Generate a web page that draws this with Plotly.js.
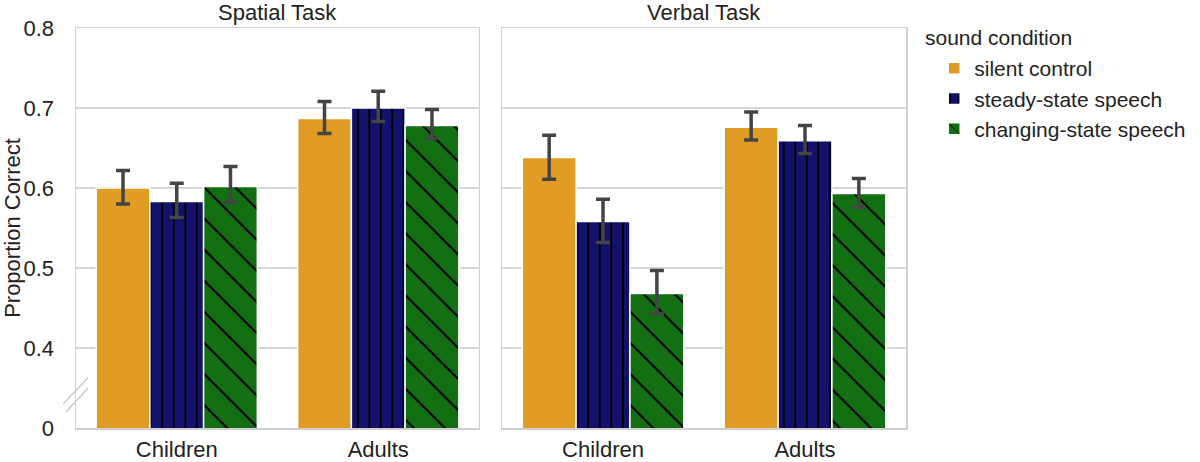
<!DOCTYPE html>
<html>
<head>
<meta charset="utf-8">
<script src="https://cdn.plot.ly/plotly-3.0.1.min.js"></script>
<style>html,body{margin:0;padding:0;background:#fff}#chart{width:1200px;height:462px}</style>
</head>
<body>
<div id="chart"></div>
<script>
// Data
var groups = ['Children', 'Adults'];
var tasks = ['Spatial Task', 'Verbal Task'];
var conditions = ['silent control', 'steady-state speech', 'changing-state speech'];

// means per task [Children, Adults]
var spatialSilent = [0.600, 0.687];
var spatialSteady = [0.583, 0.700];
var spatialChanging = [0.602, 0.678];
var verbalSilent = [0.638, 0.676];
var verbalSteady = [0.558, 0.659];
var verbalChanging = [0.468, 0.593];

// confidence interval bounds
var spatialSilentHi = [0.622, 0.708];
var spatialSilentLo = [0.580, 0.668];
var spatialSteadyHi = [0.606, 0.721];
var spatialSteadyLo = [0.563, 0.683];
var spatialChangingHi = [0.627, 0.698];
var spatialChangingLo = [0.582, 0.662];
var verbalSilentHi = [0.666, 0.695];
var verbalSilentLo = [0.611, 0.660];
var verbalSteadyHi = [0.586, 0.678];
var verbalSteadyLo = [0.532, 0.643];
var verbalChangingHi = [0.497, 0.612];
var verbalChangingLo = [0.443, 0.576];

// y-axis: broken scale, 0 shown at the bottom then 0.4 .. 0.8
var yTickVals = [0.3, 0.4, 0.5, 0.6, 0.7, 0.8];
var yTickText = ['0', '0.4', '0.5', '0.6', '0.7', '0.8'];

var colors = ['#e09c24', '#12126c', '#127012'];
var patterns = ['', '|', '\\'];
var patternSizes = [0, 11.5, 22];
var patternSolidity = [0, 0.17, 0.1];

var series = [
  [[spatialSilent, spatialSilentHi, spatialSilentLo], [spatialSteady, spatialSteadyHi, spatialSteadyLo], [spatialChanging, spatialChangingHi, spatialChangingLo]],
  [[verbalSilent, verbalSilentHi, verbalSilentLo], [verbalSteady, verbalSteadyHi, verbalSteadyLo], [verbalChanging, verbalChangingHi, verbalChangingLo]]
];

var FONT = 'Liberation Sans, Arial, sans-serif';
var FS = 22;
var traces = [];
for (var t = 0; t < tasks.length; t++) {
  for (var c = 0; c < conditions.length; c++) {
    var m = series[t][c][0], hi = series[t][c][1], lo = series[t][c][2];
    var marker = {color: colors[c], line: {color: '#ffffff', width: 1.5}};
    if (patterns[c]) {
      marker.pattern = {shape: patterns[c], fgcolor: '#000000', bgcolor: colors[c], fgopacity: 1,
                        size: patternSizes[c], solidity: patternSolidity[c]};
    }
    traces.push({
      type: 'bar',
      name: conditions[c],
      legendgroup: conditions[c],
      showlegend: t === 0,
      x: groups,
      y: m,
      xaxis: t === 0 ? 'x' : 'x2',
      yaxis: t === 0 ? 'y' : 'y2',
      marker: marker,
      error_y: {
        type: 'data', symmetric: false,
        array: hi.map(function (v, i) { return v - m[i]; }),
        arrayminus: lo.map(function (v, i) { return m[i] - v; }),
        color: '#444444', thickness: 3.5, width: 7
      },
      hoverinfo: 'skip'
    });
  }
}

var xBase = {
  type: 'category', range: [-0.5, 1.5], showgrid: false, zeroline: false,
  showline: true, mirror: true, linecolor: '#d0d0d0', linewidth: 1.5,
  ticks: '', tickfont: {family: FONT, size: FS, color: '#222222'}, ticklabelstandoff: 1
};
var yBase = {
  range: [0.3, 0.8], tickvals: yTickVals, ticktext: yTickText,
  showgrid: true, gridcolor: '#d6d6d6', gridwidth: 1.5, zeroline: false,
  showline: true, mirror: true, linecolor: '#d0d0d0', linewidth: 1.5,
  ticks: '', tickfont: {family: FONT, size: FS, color: '#222222'}
};

var layout = {
  width: 1200, height: 462,
  margin: {l: 76, r: 294, t: 28, b: 34, autoexpand: false},
  paper_bgcolor: '#ffffff', plot_bgcolor: '#ffffff',
  font: {family: FONT, color: '#222222'},
  barmode: 'group', bargap: 0.2, bargroupgap: 0,
  xaxis: Object.assign({}, xBase, {domain: [0, 0.4855], anchor: 'y'}),
  xaxis2: Object.assign({}, xBase, {domain: [0.5133, 1], anchor: 'y2'}),
  yaxis: Object.assign({}, yBase, {domain: [0, 1], anchor: 'x', ticklabelstandoff: 16,
    title: {text: 'Proportion Correct', font: {family: FONT, size: FS, color: '#222222'}, standoff: 10}}),
  yaxis2: Object.assign({}, yBase, {domain: [0, 1], anchor: 'x2', matches: 'y', showticklabels: false}),
  legend: {
    x: 1.034, xanchor: 'left', y: 0.95, yanchor: 'top',
    font: {family: FONT, size: 21, color: '#222222'},
    bgcolor: 'rgba(0,0,0,0)', itemwidth: 30, tracegroupgap: 0
  },
  annotations: [
    {text: tasks[0], xref: 'x domain', yref: 'paper', x: 0.5, y: 1, yanchor: 'bottom', yshift: 1, showarrow: false,
     font: {family: FONT, size: FS, color: '#222222'}},
    {text: tasks[1], xref: 'x2 domain', yref: 'paper', x: 0.5, y: 1, yanchor: 'bottom', yshift: 1, showarrow: false,
     font: {family: FONT, size: FS, color: '#222222'}},
    {text: 'sound condition', xref: 'paper', yref: 'paper', x: 1.0205, xanchor: 'left', y: 1.01, yanchor: 'top', showarrow: false,
     font: {family: FONT, size: 21, color: '#222222'}}
  ],
  shapes: [
    {type: 'line', xref: 'x domain', yref: 'y', x0: -0.032, x1: 0.03, y0: 0.33, y1: 0.363, line: {color: '#cccccc', width: 1.5}},
    {type: 'line', xref: 'x domain', yref: 'y', x0: -0.025, x1: 0.03, y0: 0.32, y1: 0.35, line: {color: '#cccccc', width: 1.5}}
  ]
};

Plotly.newPlot('chart', traces, layout, {displayModeBar: false, staticPlot: true});
</script>
</body>
</html>
